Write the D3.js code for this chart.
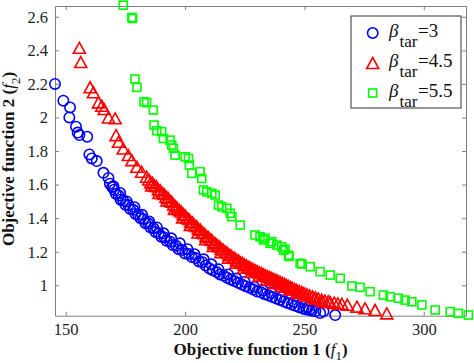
<!DOCTYPE html>
<html><head><meta charset="utf-8">
<script src="https://cdn.jsdelivr.net/npm/d3@7"></script>
<style>body{margin:0;background:#fff}svg{display:block}</style>
</head><body>
<svg id="c" width="474" height="363"></svg>
<script>
// ---------- data ----------
const xTicks = [150, 200, 250, 300];
const xTickLabels = ["150", "200", "250", "300"];
const yTicks = [1, 1.2, 1.4, 1.6, 1.8, 2, 2.2, 2.4, 2.6];
const yTickLabels = ["1", "1.2", "1.4", "1.6", "1.8", "2", "2.2", "2.4", "2.6"];
const seriesLabels = ["=3", "=4.5", "=5.5"];

// beta_tar = 3  (f1, f2)
const beta3 = [
 [145.5,2.20],[149.0,2.10],[151.8,2.06],[151.5,2.00],[154.3,1.945],[155.0,1.91],[155.7,1.895],[159.0,1.885],
 [159.9,1.78],[160.9,1.756],[163.0,1.74],[165.8,1.67],[167.9,1.64],
 [168.5,1.605],[169.4,1.585],[170.3,1.57],[171.0,1.545],[172.2,1.535],[173.0,1.51],[174.1,1.505],[175.0,1.48],
 [176.2,1.478],[177.0,1.455],[178.3,1.45],[179.2,1.425],[180.4,1.42],[181.3,1.40],[182.5,1.395],[183.4,1.37],
 [184.6,1.368],[185.5,1.345],[186.8,1.34],[187.6,1.318],[189.0,1.31],[190.0,1.29],[191.4,1.285],[192.3,1.265],
 [193.8,1.26],[194.8,1.24],[196.3,1.235],[197.3,1.215],[198.8,1.21],[200.0,1.19],[201.6,1.187],[202.8,1.168],
 [204.4,1.162],[205.8,1.142],[207.3,1.138],[208.6,1.118],[210.2,1.10],[211.6,1.09],[213.2,1.08],[214.6,1.065],
 [216.2,1.058],[217.6,1.045],[219.2,1.035],[220.6,1.025],[222.2,1.015],[223.8,1.005],[225.4,0.995],[227.0,0.985],
 [228.6,0.975],[230.2,0.963],[231.8,0.958],[233.4,0.947],[235.0,0.94],[236.6,0.93],[238.2,0.922],[239.8,0.913],
 [241.4,0.903],[243.0,0.895],[244.7,0.885],[246.2,0.878],[247.8,0.87],[249.6,0.86],[250.8,0.858],[252.0,0.853],
 [253.1,0.849],[254.6,0.845],[256.6,0.835],[262.9,0.823],
 [170.0,1.59],[172.8,1.55],[175.6,1.50],[178.8,1.465],[182.0,1.42],[185.0,1.38],[188.2,1.345],[191.0,1.31],
 [194.2,1.28],[197.8,1.25],[201.0,1.215],[204.0,1.185],[207.8,1.155],[211.0,1.125],[214.0,1.095],[218.0,1.065],
 [221.5,1.04],[225.0,1.02],[229.0,0.99],[232.6,0.97],[236.0,0.955],[240.5,0.93],[245.5,0.90],[251.5,0.87],[258.0,0.845]
];

// beta_tar = 4.5
const beta45 = [
 [155.7,2.415],[156.3,2.33],[160.2,2.18],[161.6,2.15],[163.7,2.09],[165.1,2.07],[166.1,2.05],[167.9,2.0],
 [170.7,1.995],[171.1,1.895],[172.1,1.855],[174.1,1.815],[176.2,1.776],[177.7,1.746],[179.8,1.706],[181.8,1.677],
 [183.9,1.647],[184.8,1.63],[185.6,1.615],[186.4,1.61],[187.2,1.595],[188.0,1.59],[188.8,1.572],[189.6,1.565],
 [190.4,1.55],[191.2,1.545],[192.0,1.528],[192.8,1.522],[193.6,1.505],[194.4,1.498],[195.2,1.482],[196.0,1.472],
 [196.8,1.46],[197.6,1.448],[198.4,1.44],[199.2,1.425],[200.0,1.418],[200.8,1.402],[201.6,1.396],[202.4,1.38],
 [203.2,1.374],[204.0,1.358],[204.8,1.352],[205.6,1.338],[206.4,1.332],[207.2,1.316],[208.0,1.31],[208.8,1.295],
 [209.6,1.29],[210.4,1.276],[211.2,1.27],[212.0,1.256],[212.8,1.25],[213.6,1.237],[214.4,1.232],[215.2,1.218],
 [216.0,1.213],[216.8,1.2],[217.6,1.196],[218.4,1.183],[219.2,1.179],[220.0,1.167],[220.8,1.163],[221.6,1.151],
 [222.4,1.148],[223.2,1.137],[224.0,1.133],[224.8,1.124],[225.6,1.12],[226.4,1.111],[227.2,1.107],[228.0,1.099],
 [228.8,1.095],[229.6,1.087],[230.4,1.083],[231.2,1.076],[232.0,1.072],[232.8,1.065],[233.6,1.061],[234.4,1.055],
 [235.2,1.05],[236.0,1.045],[236.8,1.04],[237.6,1.034],[238.4,1.03],[239.2,1.024],[240.0,1.019],[240.8,1.013],
 [241.6,1.008],[242.4,1.002],[243.2,0.997],[244.0,0.991],[244.8,0.986],[245.8,0.979],[246.8,0.972],[247.8,0.966],
 [248.8,0.96],[249.8,0.954],[251.0,0.947],[252.2,0.94],[253.4,0.934],[254.6,0.928],[255.8,0.922],[257.2,0.915],
 [258.6,0.909],[260.0,0.905],[260.8,0.9],[262.5,0.897],[264.0,0.892],[265.7,0.89],[268.0,0.884],[272.0,0.873],
 [275.4,0.863],[279.6,0.853],[284.5,0.833],
 [186.0,1.595],[189.0,1.55],[192.4,1.505],[195.6,1.455],[199.0,1.405],[202.2,1.36],[205.4,1.315],[208.6,1.275],
 [211.8,1.235],[215.0,1.198],[218.2,1.165],[221.4,1.135],[224.6,1.105],[227.8,1.08],[231.0,1.058],[234.2,1.035],
 [237.4,1.013],[240.6,0.995],[243.8,0.975],[247.0,0.955],[250.5,0.938],[254.0,0.92],[257.5,0.905]
];

// beta_tar = 5.5
const beta55 = [
 [174.1,2.669],[177.7,2.596],[178.0,2.59],[179.0,2.229],[179.8,2.179],[182.8,2.094],[183.9,2.088],[186.7,2.044],
 [187.0,1.955],[188.1,1.921],[190.2,1.915],[190.9,1.875],[193.7,1.865],[194.4,1.836],[195.1,1.816],[195.8,1.776],
 [200.0,1.766],[201.4,1.756],[201.8,1.716],[202.8,1.667],[206.3,1.677],[207.0,1.637],[207.7,1.568],[209.1,1.557],
 [211.2,1.548],[212.6,1.538],[214.0,1.478],[215.4,1.468],[217.5,1.459],[218.9,1.429],[219.6,1.409],[223.1,1.359],
 [229.3,1.300],[231.4,1.289],[232.8,1.270],[233.5,1.280],[235.6,1.250],[236.3,1.260],[238.4,1.240],[240.5,1.230],
 [241.2,1.210],[241.9,1.215],[243.3,1.180],[243.6,1.172],[248.2,1.131],[248.9,1.127],[252.4,1.111],[256.6,1.081],
 [260.8,1.061],[265.0,1.042],[269.9,0.996],[273.3,0.988],[277.5,0.962],[283.1,0.942],[285.9,0.932],[289.4,0.923],
 [292.2,0.912],[295.0,0.902],[299.2,0.883],[304.8,0.853],[311.1,0.843],[314.5,0.833],[318.7,0.823]
];

// ---------- chart ----------
const svg = d3.select("#c");
const L = 55, R = 466, T = 6, B = 315.7;
const x = d3.scaleLinear().domain([145.5, 317.7]).range([L, R]);
const y = d3.scaleLinear().domain([0.819, 2.664]).range([B, T]);
const font = "'Liberation Serif','Times New Roman',Times,serif";
const axisColor = "#808080";

svg.append("rect").attr("width", 474).attr("height", 363).attr("fill", "#fff");

function styleAxis(g, labels) {
  g.attr("font-family", font).attr("font-size", 16.5);
  g.select(".domain").attr("stroke", axisColor);
  g.selectAll(".tick line").attr("stroke", axisColor);
  g.selectAll(".tick text").attr("fill", "#222");
  if (!labels) g.selectAll(".tick text").remove();
}

const gx = svg.append("g").attr("transform", `translate(0,${B})`)
  .call(d3.axisBottom(x).tickValues(xTicks).tickFormat((d, i) => xTickLabels[i]).tickSizeInner(-4).tickSizeOuter(0).tickPadding(8));
styleAxis(gx, true);
const gxt = svg.append("g").attr("transform", `translate(0,${T})`)
  .call(d3.axisTop(x).tickValues(xTicks).tickSizeInner(-4).tickSizeOuter(0));
styleAxis(gxt, false);
const gy = svg.append("g").attr("transform", `translate(${L},0)`)
  .call(d3.axisLeft(y).tickValues(yTicks).tickFormat((d, i) => yTickLabels[i]).tickSizeInner(-4).tickSizeOuter(0).tickPadding(7));
styleAxis(gy, true);
const gyr = svg.append("g").attr("transform", `translate(${R},0)`)
  .call(d3.axisRight(y).tickValues(yTicks).tickSizeInner(-4).tickSizeOuter(0));
styleAxis(gyr, false);

// markers
const triW = 12, triH = 11;
const triPath = `M0,${-triH/2}L${triW/2},${triH/2}L${-triW/2},${triH/2}Z`;
const sq = 8;
const sw = 1.6;

svg.append("g").selectAll("circle").data(beta3).join("circle")
  .attr("cx", d => x(d[0])).attr("cy", d => y(d[1])).attr("r", 5.2)
  .attr("fill", "none").attr("stroke", "#0000ff").attr("stroke-width", sw);

svg.append("g").selectAll("path").data(beta45).join("path")
  .attr("d", triPath).attr("transform", d => `translate(${x(d[0])},${y(d[1])})`)
  .attr("fill", "none").attr("stroke", "#ff0000").attr("stroke-width", sw);

svg.append("g").selectAll("rect").data(beta55).join("rect")
  .attr("x", d => x(d[0]) - sq/2).attr("y", d => y(d[1]) - sq/2).attr("width", sq).attr("height", sq)
  .attr("fill", "none").attr("stroke", "#00ff00").attr("stroke-width", sw);

// legend
const lg = svg.append("g");
lg.append("rect").attr("x", 351).attr("y", 16).attr("width", 110).attr("height", 92)
  .attr("fill", "#fff").attr("stroke", "#333").attr("stroke-width", 1);
const rows = [33, 63, 93];
lg.append("circle").attr("cx", 372.7).attr("cy", rows[0]).attr("r", 5.2)
  .attr("fill", "none").attr("stroke", "#0000ff").attr("stroke-width", sw);
lg.append("path").attr("d", triPath).attr("transform", `translate(372.7,${rows[1]})`)
  .attr("fill", "none").attr("stroke", "#ff0000").attr("stroke-width", sw);
lg.append("rect").attr("x", 372.7 - 4).attr("y", rows[2] - 4).attr("width", 8).attr("height", 8)
  .attr("fill", "none").attr("stroke", "#00ff00").attr("stroke-width", sw);
seriesLabels.forEach((s, i) => {
  const t = lg.append("text").attr("y", rows[i] + 4).attr("font-family", font).attr("font-size", 19).attr("fill", "#111");
  t.append("tspan").attr("x", 389).style("font-style", "italic").text("β");
  t.append("tspan").attr("x", 399.5).attr("dy", 10).attr("font-size", 17).text("tar");
  t.append("tspan").attr("x", 418).attr("dy", -10).text(s);
});

// axis labels
const xl = svg.append("text").attr("x", 260.5).attr("y", 354.5).attr("text-anchor", "middle")
  .attr("font-family", font).attr("font-size", 17).attr("font-weight", "bold").attr("fill", "#111");
xl.append("tspan").text("Objective function 1 (");
xl.append("tspan").style("font-style", "italic").attr("font-weight", "normal").text("f");
xl.append("tspan").attr("dy", 5).attr("font-size", 13).attr("font-weight", "normal").text("1");
xl.append("tspan").attr("dy", -5).text(")");

const yl = svg.append("text").attr("transform", "translate(14,159) rotate(-90)").attr("text-anchor", "middle")
  .attr("font-family", font).attr("font-size", 17).attr("font-weight", "bold").attr("fill", "#111");
yl.append("tspan").text("Objective function 2 (");
yl.append("tspan").style("font-style", "italic").attr("font-weight", "normal").text("f");
yl.append("tspan").attr("dy", 6).attr("font-size", 13).attr("font-weight", "normal").text("2");
yl.append("tspan").attr("dy", -6).text(")");
</script>
</body></html>
